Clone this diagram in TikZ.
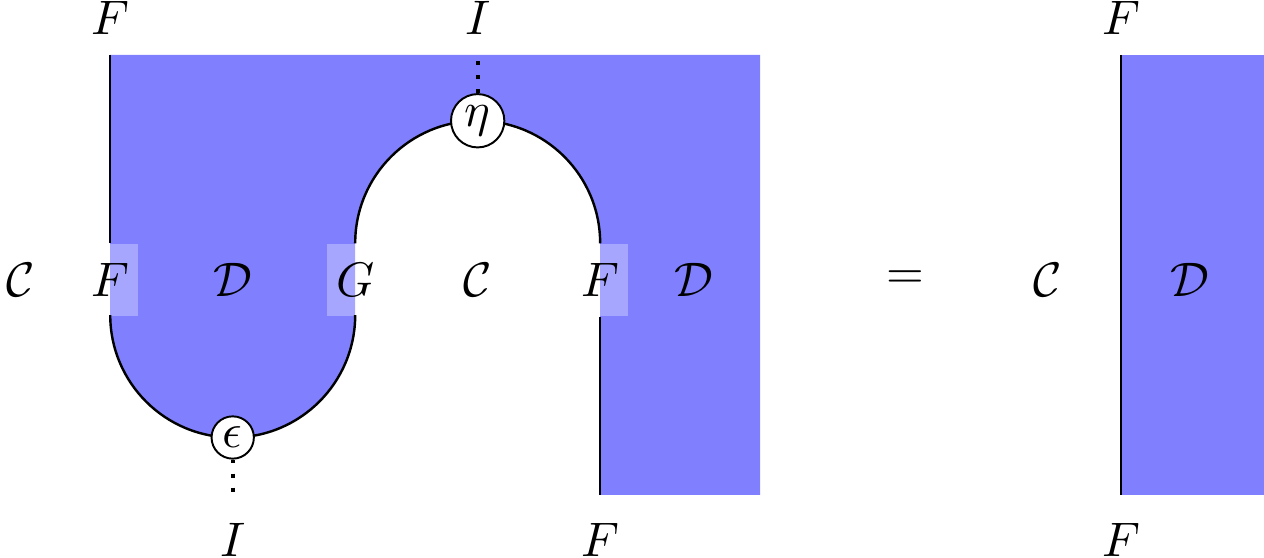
\documentclass[tikz,border=0pt]{standalone}
\usepackage{tikz}
\usetikzlibrary{positioning,math}
\tikzset{
wire/.style={line width=0.5pt},
dots/.style={line width=0.8pt,dash pattern=on 0.8pt off 2.1pt},
morph/.style={circle,draw,fill=white,inner sep=1pt},
patch/.style={fill=white,fill opacity=0.3,text opacity=1,inner sep=0pt,minimum width=11.5pt,minimum height=15pt}
}
\usepackage{amsmath,amssymb}

\begin{document}
\begin{tikzpicture}
	\tikzmath{\s = 0.888;} % scaling factor
	\useasboundingbox (-0.9*\s,-2.262*\s) rectangle (9.42*\s,2.286*\s);

	% regions
	\fill[blue!50] (0,1.837*\s) -- (0,-0.286*\s) arc[start angle=180,end angle=360,radius=\s] -- (2*\s,0.3*\s) arc[start angle=180,end angle=0,radius=\s] -- (4*\s,-1.755*\s) -- (5.307*\s,-1.755*\s) -- (5.307*\s,1.837*\s) -- cycle;
	\fill[blue!50] (8.254*\s,-1.755*\s) rectangle (9.42*\s,1.837*\s);

	% wire ends
	\coordinate (ltop) at (0,1.837*\s);
	\coordinate (etatop) at (3*\s,1.837*\s);
	\coordinate (epsbot) at (1*\s,-1.755*\s);
	\coordinate (rbot) at (4*\s,-1.755*\s);
	\coordinate (idtop) at (8.254*\s,1.837*\s);
	\coordinate (idbot) at (8.254*\s,-1.755*\s);

	% wire labels
	\node[patch] (F1) at (0,0) {$F$};
	\node[patch] (G) at (2*\s,0) {$G$};
	\node[patch] (F2) at (4*\s,0) {$F$};

	% wires
	\draw[wire] (ltop) -- (F1);
	\draw[wire] (F1) -- (0,-0.286*\s) arc[start angle=180,end angle=360,radius=\s] -- (G);
	\draw[wire] (G) -- (2*\s,0.3*\s) arc[start angle=180,end angle=0,radius=\s] -- (F2);
	\draw[wire] (F2) -- (rbot);
	\draw[wire] (idtop) -- (idbot);

	% unit and counit
	\node[morph] (eps) at (1*\s,-1.286*\s) {$\epsilon$};
	\node[morph] (eta) at (3*\s,1.3*\s) {$\eta$};
	\draw[dots] (eps) -- (epsbot);
	\draw[dots] (eta) -- (etatop);

	% boundary labels
	\node (Ftop) at (0,2.139*\s) {$F$};
	\node (Itop) at (3*\s,2.139*\s) {$I$};
	\node (Ibot) at (1*\s,-2.12*\s) {$I$};
	\node (Fbot) at (4*\s,-2.12*\s) {$F$};
	\node (Fidtop) at (8.254*\s,2.139*\s) {$F$};
	\node (Fidbot) at (8.254*\s,-2.12*\s) {$F$};

	% regions labels
	\node (C1) at (-0.735*\s,0) {$\mathcal{C}$};
	\node (D1) at (1*\s,0) {$\mathcal{D}$};
	\node (C2) at (3*\s,0) {$\mathcal{C}$};
	\node (D2) at (4.768*\s,0) {$\mathcal{D}$};
	\node (eq) at (6.49*\s,0) {$=$};
	\node (C3) at (7.65*\s,0) {$\mathcal{C}$};
	\node (D3) at (8.818*\s,0) {$\mathcal{D}$};
\end{tikzpicture}
\end{document}
